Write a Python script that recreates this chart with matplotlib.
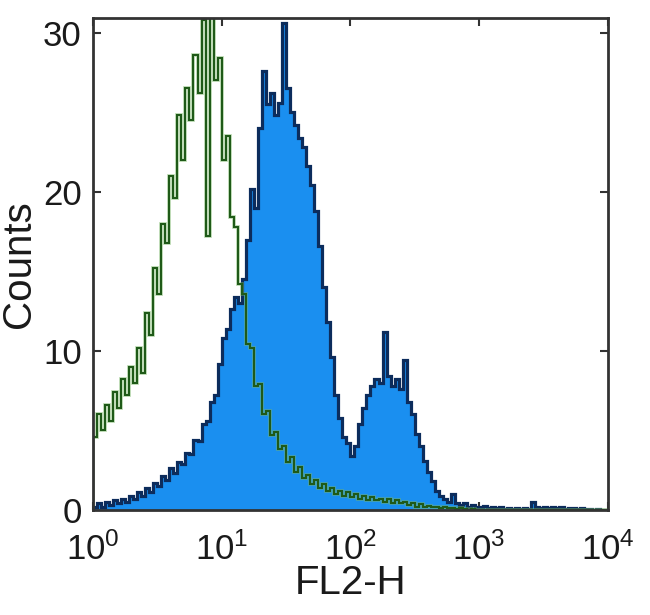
import numpy as np
import matplotlib
matplotlib.use("Agg")
import matplotlib.pyplot as plt
from matplotlib.ticker import LogLocator, LogFormatterMathtext, NullLocator, FixedLocator

plt.rcParams['font.family'] = ['Liberation Sans', 'DejaVu Sans']
plt.rcParams['mathtext.fontset'] = 'custom'
plt.rcParams['mathtext.rm'] = 'Liberation Sans'
plt.rcParams['mathtext.default'] = 'regular'

# histogram channels: 32 bins per decade over 10^0 .. 10^4
bins_per_decade = 32
n_decades = 4

# stained sample (filled blue)
blue_counts = [
    0.2, 0.4, 0.2, 0.5, 0.3, 0.6, 0.4, 0.7,
    0.5, 0.9, 0.7, 1.1, 0.9, 1.4, 1.1, 1.7,
    1.5, 2.1, 1.9, 2.6, 2.3, 3.0, 2.9, 3.6,
    3.5, 4.4, 4.3, 5.4, 5.6, 6.8, 7.2, 9.2,
    10.8, 11.4, 12.6, 13.4, 13.0, 14.5, 17.0, 20.2,
    19.0, 24.0, 27.6, 25.5, 26.2, 24.8, 25.6, 30.6,
    26.5, 25.0, 24.2, 23.4, 22.8, 21.6, 20.4, 18.8,
    16.6, 14.0, 11.8, 9.6, 7.2, 5.8, 4.6, 4.2,
    3.4, 4.0, 5.4, 6.4, 7.2, 7.8, 8.2, 8.0,
    11.2, 8.4, 7.8, 8.2, 7.6, 9.4, 6.8, 6.0,
    4.8, 4.0, 3.1, 2.4, 1.8, 1.2, 0.9, 0.7,
    0.5, 1.0, 0.4, 0.3, 0.4, 0.2, 0.3, 0.2,
    0.15, 0.25, 0.1, 0.2, 0.1, 0.15, 0.05, 0.1,
    0.05, 0.1, 0.05, 0.1, 0.05, 0.5, 0.2, 0.1,
    0.15, 0.1, 0.2, 0.1, 0.15, 0.05, 0.1, 0.1,
    0.05, 0.1, 0.05, 0.05, 0.0, 0.05, 0.0, 0.0,
]

# isotype control (green outline)
green_counts = [
    4.6, 6.0, 5.0, 6.6, 5.6, 7.4, 6.4, 8.2,
    7.2, 9.0, 8.0, 10.2, 8.6, 12.4, 11.0, 15.2,
    13.6, 18.0, 16.8, 21.0, 19.6, 24.8, 22.0, 26.5,
    24.5, 28.6, 26.2, 30.8, 17.2, 31.0, 27.0, 28.4,
    22.0, 23.5, 18.4, 17.8, 14.2, 13.6, 10.4, 10.2,
    7.8, 7.9, 6.0, 6.2, 4.7, 4.9, 3.8, 4.0,
    3.0, 3.3, 2.4, 2.7, 2.0, 2.2, 1.6, 1.9,
    1.4, 1.6, 1.2, 1.4, 1.0, 1.2, 0.9, 1.1,
    0.8, 1.0, 0.7, 0.9, 0.6, 0.8, 0.6, 0.7,
    0.5, 0.7, 0.4, 0.6, 0.4, 0.5, 0.3, 0.4,
    0.2, 0.35, 0.2, 0.25, 0.15, 0.2, 0.1, 0.15,
    0.1, 0.12, 0.05, 0.1, 0.05, 0.0, 0.05, 0.0,
    0, 0, 0, 0, 0, 0, 0, 0,
    0, 0, 0, 0, 0, 0, 0, 0,
    0, 0, 0, 0, 0, 0, 0, 0,
    0, 0, 0, 0, 0, 0, 0, 0,
]

y_ticks = [0, 10, 20, 30]
x_label = "FL2-H"
y_label = "Counts"

edges = np.logspace(0, n_decades, bins_per_decade * n_decades + 1)

fig = plt.figure(figsize=(6.5, 6.15), dpi=100)
ax = fig.add_axes([0.143, 0.171, 0.792, 0.80])

ax.stairs(blue_counts, edges, fill=True, color='#1a8ff0', zorder=2)
ax.stairs(blue_counts, edges, color='#0c2c5c', linewidth=2.3, zorder=3)
ax.stairs(green_counts, edges, color='#7dbb6a', linewidth=2.8, alpha=0.45, zorder=4)
ax.stairs(green_counts, edges, color='#1f5a18', linewidth=1.5, zorder=5)

ax.set_xscale('log')
ax.set_xlim(1, 1e4)
ax.set_ylim(0, 30.94)
ax.xaxis.set_major_locator(LogLocator(base=10, numticks=10))
ax.xaxis.set_major_formatter(LogFormatterMathtext())
ax.xaxis.set_minor_locator(NullLocator())
ax.yaxis.set_major_locator(FixedLocator(y_ticks))

ax.tick_params(direction='in', length=6, width=1.5, color='#333333',
               top=True, right=True, labelsize=25, colors='#1a1a1a')
ax.tick_params(axis='x', pad=16)
ax.tick_params(axis='y', pad=8)
for s in ax.spines.values():
    s.set_linewidth(2.0)
    s.set_color('#333333')
    s.set_zorder(6)

ax.set_xlabel(x_label, fontsize=29, color='#1a1a1a', labelpad=-2)
ax.set_ylabel(y_label, fontsize=29, color='#1a1a1a', labelpad=4)

fig.savefig('out.png', dpi=100, facecolor='white')
